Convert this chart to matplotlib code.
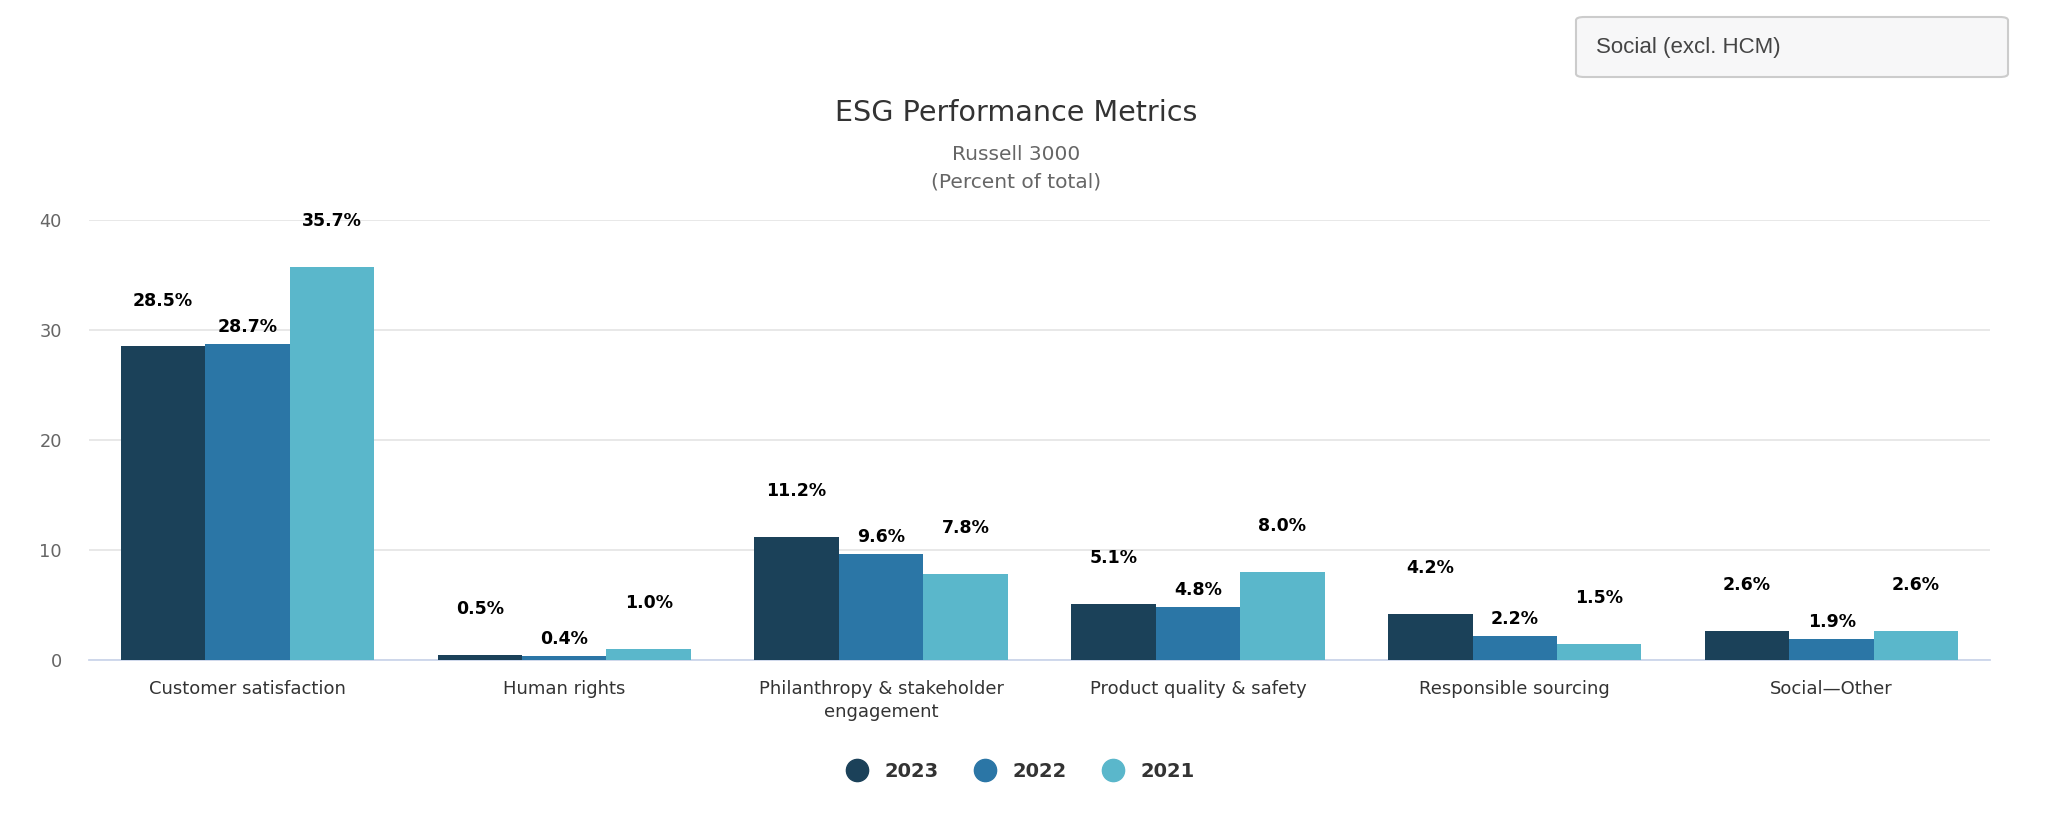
import matplotlib
matplotlib.use("Agg")
import matplotlib.pyplot as plt
from matplotlib.patches import FancyBboxPatch
from matplotlib.lines import Line2D
import numpy as np

categories = ["Customer satisfaction", "Human rights", "Philanthropy & stakeholder\nengagement",
              "Product quality & safety", "Responsible sourcing", "Social\u2014Other"]
years = ["2023", "2022", "2021"]
v2023 = [28.5, 0.5, 11.2, 5.1, 4.2, 2.6]
v2022 = [28.7, 0.4, 9.6, 4.8, 2.2, 1.9]
v2021 = [35.7, 1.0, 7.8, 8.0, 1.5, 2.6]
series = [v2023, v2022, v2021]
colors = ["#1b4159", "#2b76a6", "#5ab7cb"]
label_offsets = [46, 17, 46]  # pixels above bar top (label centre)

plt.rcParams['font.family'] = ['DejaVu Sans']

W, H = 2048, 822
fig = plt.figure(figsize=(W / 100, H / 100), dpi=100)
ax = fig.add_axes([89 / W, 1 - 660 / H, (1990 - 89) / W, (660 - 220) / H])

x = np.arange(len(categories))
bw = 0.8 / 3
for i, (vals, col) in enumerate(zip(series, colors)):
    pos = x + (i - 1) * bw
    ax.bar(pos, vals, width=bw, color=col, edgecolor='none', zorder=3)
    for xp, v in zip(pos, vals):
        ax.annotate(f"{v:.1f}%", xy=(xp, v), xytext=(0, label_offsets[i]),
                    textcoords='offset pixels', ha='center', va='center',
                    fontsize=12.5, fontweight='bold', color='#000000', zorder=4)

ax.set_xlim(-0.5, len(categories) - 0.5)
ax.set_ylim(0, 40)
ax.set_yticks([0, 10, 20, 30, 40])
ax.yaxis.grid(True, color='#e6e6e6', linewidth=1.3, zorder=0)
ax.set_axisbelow(True)
for s in ['top', 'right', 'left']:
    ax.spines[s].set_visible(False)
ax.spines['bottom'].set_color('#ccd6eb')
ax.spines['bottom'].set_linewidth(1.3)
ax.tick_params(axis='both', length=0)
ax.tick_params(axis='y', labelsize=12.8, labelcolor='#666666', pad=19.5)
ax.set_xticks(x)
ax.set_xticklabels(categories, fontsize=13, color='#333333', linespacing=1.35)
ax.tick_params(axis='x', pad=14.5)

# Title and subtitles
fig.text(1016 / W, 1 - 113 / H, "ESG Performance Metrics", ha='center', va='center',
         fontsize=20.6, color='#333333')
fig.text(1016 / W, 1 - 155 / H, "Russell 3000", ha='center', va='center',
         fontsize=14.5, color='#666666')
fig.text(1016 / W, 1 - 182 / H, "(Percent of total)", ha='center', va='center',
         fontsize=14.5, color='#666666')

# Dropdown box
box = FancyBboxPatch((1576 / W, 1 - 77 / H), (2008 - 1576) / W, (77 - 17) / H,
                     boxstyle="round,pad=0,rounding_size=0.004",
                     transform=fig.transFigure, facecolor='#f7f7f8',
                     edgecolor='#cccccc', linewidth=1.5)
fig.patches.append(box)
fig.text(1596 / W, 1 - 48 / H, "Social (excl. HCM)", ha='left', va='center',
         fontsize=16, color='#444444', family=['Liberation Sans', 'DejaVu Sans'])

# Legend
handles = [Line2D([0], [0], marker='o', linestyle='none', markersize=16,
                  markerfacecolor=c, markeredgecolor=c) for c in colors]
leg = fig.legend(handles, years, loc='center', bbox_to_anchor=(1016 / W, 1 - 771 / H),
                 ncol=3, frameon=False, handletextpad=0.4, columnspacing=1.4,
                 prop={'size': 14, 'weight': 'bold'})
for t in leg.get_texts():
    t.set_color('#333333')

fig.savefig("out.png", dpi=100, facecolor='white')
